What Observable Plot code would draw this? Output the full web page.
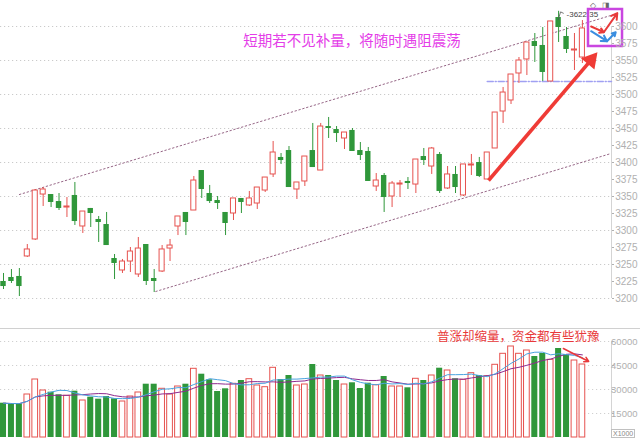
<!DOCTYPE html>
<html><head><meta charset="utf-8">
<script src="https://cdn.jsdelivr.net/npm/d3@7"></script>
<script src="https://cdn.jsdelivr.net/npm/@observablehq/plot@0.6"></script>
<style>
html,body{margin:0;padding:0;background:#fff;}
#wrap{width:640px;height:438px;position:relative;overflow:hidden;background:#fff;}
#vol{border-top:1px solid #d0d0d0;}
#wrap svg{display:block;}
.x1000{position:absolute;left:611px;top:429px;font:7px "Liberation Sans",Arial,sans-serif;color:#888;border:1px solid #c0c0c0;padding:0 1px;line-height:7px;}
</style></head><body>
<div id="wrap"><div id="price"></div><div id="vol"></div><div class="x1000">X1000</div></div>
<script>
// ---- data ----
const openP = [
3225.0, 3230.9, 3232.4, 3261.8, 3286.8, 3352.9, 3352.9, 3342.6, 3333.8, 3351.5,
3305.9, 3332.4, 3316.2, 3308.8, 3258.8, 3241.2, 3254.4, 3235.3, 3279.4, 3229.4,
3239.7, 3273.5, 3305.9, 3326.5, 3329.4, 3388.2, 3354.4, 3344.1, 3326.5, 3325.0,
3347.1, 3336.8, 3339.7, 3358.8, 3382.4, 3407.4, 3417.6, 3360.3, 3372.1, 3417.6,
3388.2, 3452.9, 3448.5, 3435.3, 3447.1, 3417.6, 3416.2, 3364.7, 3380.9, 3350.0,
3367.6, 3372.1, 3367.6, 3408.8, 3394.1, 3411.8, 3361.8, 3382.4, 3351.5, 3395.6,
3400.0, 3375.0, 3420.6, 3475.0, 3491.2, 3530.9, 3551.5, 3577.9, 3572.1, 3519.1,
3613.2, 3585.3, 3564.7, 3554.4];
const closeP = [
3217.6, 3225.0, 3217.6, 3272.1, 3358.8, 3360.3, 3341.2, 3332.4, 3335.3, 3313.2,
3327.9, 3325.0, 3311.8, 3277.9, 3251.5, 3254.4, 3269.1, 3273.5, 3225.0, 3225.0,
3272.1, 3277.9, 3320.6, 3311.8, 3373.5, 3360.3, 3342.6, 3339.7, 3310.3, 3347.1,
3341.2, 3347.1, 3363.2, 3377.9, 3414.7, 3402.9, 3363.2, 3370.6, 3408.8, 3392.6,
3452.9, 3450.0, 3442.6, 3444.1, 3416.2, 3410.3, 3372.1, 3373.5, 3348.5, 3369.1,
3369.1, 3369.1, 3404.4, 3402.9, 3420.6, 3357.4, 3382.4, 3363.2, 3397.1, 3397.1,
3379.4, 3414.7, 3473.5, 3502.9, 3529.4, 3550.0, 3576.5, 3570.6, 3532.4, 3607.4,
3598.5, 3566.2, 3566.2, 3597.1];
const highP = [
3236.8, 3242.6, 3244.1, 3279.4, 3360.3, 3363.2, 3352.9, 3354.4, 3348.5, 3370.6,
3327.9, 3332.4, 3320.6, 3326.5, 3264.7, 3257.4, 3275.0, 3289.7, 3279.4, 3242.6,
3277.9, 3286.8, 3320.6, 3326.5, 3379.4, 3388.2, 3366.2, 3350.0, 3326.5, 3347.1,
3347.1, 3357.4, 3363.2, 3377.9, 3430.9, 3413.2, 3423.5, 3370.6, 3408.8, 3457.4,
3457.4, 3466.2, 3452.9, 3444.1, 3450.0, 3429.4, 3422.1, 3383.8, 3383.8, 3372.1,
3373.5, 3377.9, 3404.4, 3420.6, 3422.1, 3414.7, 3394.1, 3394.1, 3397.1, 3411.8,
3407.4, 3414.7, 3473.5, 3510.3, 3529.4, 3554.4, 3576.5, 3589.7, 3598.5, 3607.4,
3622.35, 3598.5, 3589.7, 3608.8];
const lowP = [
3213.2, 3222.1, 3202.9, 3260.3, 3285.3, 3335.3, 3333.8, 3329.4, 3319.1, 3307.4,
3295.6, 3304.4, 3282.4, 3277.9, 3227.9, 3236.8, 3238.2, 3230.9, 3219.1, 3208.8,
3238.2, 3254.4, 3292.6, 3292.6, 3329.4, 3347.1, 3339.7, 3330.9, 3292.6, 3314.7,
3325.0, 3335.3, 3330.9, 3355.9, 3377.9, 3397.1, 3363.2, 3345.6, 3364.7, 3392.6,
3388.2, 3435.3, 3429.4, 3419.1, 3416.2, 3402.9, 3372.1, 3357.4, 3326.5, 3333.8,
3348.5, 3360.3, 3354.4, 3395.6, 3382.4, 3354.4, 3360.3, 3354.4, 3350.0, 3380.9,
3377.9, 3375.0, 3420.6, 3457.4, 3485.3, 3516.2, 3527.9, 3547.1, 3519.1, 3519.1,
3576.5, 3560.3, 3535.3, 3545.6];
const volume = [
21440, 21060, 21060, 26875, 36250, 29375, 28310, 26690, 26060, 28940,
23125, 25190, 23940, 25625, 24190, 22500, 25625, 28125, 33310, 33310,
30440, 26875, 31875, 33310, 42940, 39560, 36060, 28750, 30440, 33560,
35625, 36440, 32500, 31440, 43560, 36250, 38750, 32500, 33125, 45625,
38750, 38750, 35625, 33125, 34190, 30625, 33940, 32690, 38125, 31875,
31875, 31060, 36690, 35625, 38750, 43310, 41875, 36690, 36060, 40190,
38750, 38310, 45440, 52310, 56875, 52310, 54375, 50625, 52500, 48560,
55625, 51690, 48125, 45625];

const priceTicks = [3200,3225,3250,3275,3300,3325,3350,3375,3400,3425,3450,3475,3500,3525,3550,3575,3600];
const priceGrid = [3200,3250,3300,3350,3400,3450,3500,3550,3600];
const volTicks = [15000,30000,45000,60000];

// annotations (data coordinates: candle index, price / volume)
const upperChannel = [{i:2.0, v:3352.9},{i:77.4, v:3619.1}];
const lowerChannel = [{i:19.2, v:3210.3},{i:76.6, v:3413.2}];
const supportLine = [{i:61.0, v:3519.1},{i:76.67, v:3519.1}];
const bigArrow = [{i1:61.16, v1:3373.5, i2:74.08, v2:3550.6}];
const peakLabel = [{i:71.0, v:3617.2, text:"-3622.35"}];
const peakHook = [{i:69.95, v:3610.0},{i:70.25, v:3621.5},{i:70.6, v:3619.5}];
const noteTop = [{i:43.95, v:3578, text:"短期若不见补量，将随时遇阻震荡"}];
const iconBox = [{i1:73.77, i2:78.06, v1:3570.6, v2:3625.0}];
const redIcon = [{i1:74.1,v1:3600.0,i2:75.7,v2:3591.6},{i1:75.7,v1:3591.6,i2:77.4,v2:3619.6}];
const blueIcon = [{i1:74.1,v1:3593.1,i2:76.1,v2:3578.4},{i1:76.1,v1:3578.4,i2:77.2,v2:3591.6}];
const toolIcons = [{i:74.4, v:3631.5, text:"◇"},{i:76.0, v:3631.5, text:"◨"}];
const noteVol = [{i:64.9, vol:63125, text:"普涨却缩量，资金都有些犹豫"}];
const volArrow = [{i1:70.6, y1:55625, i2:73.8, y2:47500}];

const UP = "#e6524f", DOWN = "#2f973a";
const xDomain = [-0.38, 76.67];
const bars = openP.map((o, i) => ({i, open:o, close:closeP[i], high:highP[i], low:lowP[i], vol:volume[i], up: closeP[i] >= o}));
const ups = bars.filter(d => d.up), downs = bars.filter(d => !d.up);
const font = "'Liberation Sans', Arial, sans-serif";
const cjk = "'Noto Sans CJK SC', sans-serif";

const price = Plot.plot({
  width: 640, height: 328,
  marginLeft: 0, marginRight: 29, marginTop: 26, marginBottom: 30,
  style: {fontFamily: font, background: "#fff", overflow: "visible"},
  x: {domain: xDomain, axis: null},
  y: {domain: [3200, 3600]},
  marks: [
    Plot.ruleY(priceGrid, {stroke: "#cacaca", strokeDasharray: "1.2,2.8"}),
    Plot.ruleX([xDomain[1]], {stroke: "#d4d4d4"}),
    Plot.line(upperChannel, {x: "i", y: "v", stroke: "#8a5578", strokeWidth: 0.9, strokeDasharray: "1.5,2.5"}),
    Plot.line(lowerChannel, {x: "i", y: "v", stroke: "#8a5578", strokeWidth: 0.9, strokeDasharray: "1.5,2.5"}),
    Plot.line(supportLine, {x: "i", y: "v", stroke: "#a0a0f2", strokeDasharray: "6,2,1,2"}),
    Plot.ruleX(ups, {x: "i", y1: "low", y2: "high", stroke: UP}),
    Plot.ruleX(downs, {x: "i", y1: "low", y2: "high", stroke: DOWN}),
    Plot.rect(ups, {x1: d => d.i - 0.32, x2: d => d.i + 0.32, y1: "open", y2: "close", fill: "#fff", stroke: UP}),
    Plot.rect(downs, {x1: d => d.i - 0.34, x2: d => d.i + 0.34, y1: "open", y2: "close", fill: DOWN}),
    Plot.link(bigArrow, {x1: "i1", y1: "v1", x2: "i2", y2: "v2", stroke: "#ef3b36", strokeWidth: 3.6}),
    Plot.dot(bigArrow, {x: "i2", y: "v2", symbol: "triangle", r: 6.5, rotate: 40, fill: "#ef3b36"}),
    Plot.line(peakHook, {x: "i", y: "v", stroke: "#555", strokeWidth: 0.8}),
    Plot.text(peakLabel, {x: "i", y: "v", text: "text", textAnchor: "start", fontSize: 8, fill: "#444"}),
    Plot.text(toolIcons, {x: "i", y: "v", text: "text", fontSize: 8, fill: "#666"}),
    Plot.rect(iconBox, {x1: "i1", x2: "i2", y1: "v1", y2: "v2", fill: "none", stroke: "#c946e0", strokeWidth: 2.5}),
    Plot.arrow(redIcon, {x1: "i1", y1: "v1", x2: "i2", y2: "v2", stroke: "#e83a3a", strokeWidth: 2, headLength: 5}),
    Plot.arrow(blueIcon, {x1: "i1", y1: "v1", x2: "i2", y2: "v2", stroke: "#3a8ee0", strokeWidth: 2, headLength: 5}),
    Plot.text(noteTop, {x: "i", y: "v", text: "text", fill: "#e43de8", fontSize: 14.5, fontFamily: cjk}),
    Plot.axisY({anchor: "right", ticks: priceTicks, tickSize: 2, tickPadding: 24, textAnchor: "end",
      color: "#b0b0b0", fontSize: 10, tickFormat: d => String(d), label: null})
  ]
});
document.getElementById("price").append(price);

const vol = Plot.plot({
  width: 640, height: 109,
  marginLeft: 0, marginRight: 29, marginTop: 12, marginBottom: 1,
  style: {fontFamily: font, background: "#fff", overflow: "visible"},
  x: {domain: xDomain, axis: null},
  y: {domain: [0, 60000]},
  marks: [
    Plot.ruleY(volTicks, {stroke: "#d0d0d0", strokeDasharray: "1.2,2.8"}),
    Plot.ruleX([xDomain[1]], {stroke: "#d4d4d4"}),
    Plot.rect(ups, {x1: d => d.i - 0.36, x2: d => d.i + 0.36, y1: 0, y2: "vol", fill: "#fff", stroke: UP}),
    Plot.rect(downs, {x1: d => d.i - 0.38, x2: d => d.i + 0.38, y1: 0, y2: "vol", fill: DOWN}),
    Plot.lineY(bars, Plot.windowY({k: 10, anchor: "end"}, {x: "i", y: "vol", stroke: "#8e2a8e", strokeWidth: 1})),
    Plot.lineY(bars, Plot.windowY({k: 5, anchor: "end"}, {x: "i", y: "vol", stroke: "#4aa3df", strokeWidth: 1})),
    Plot.text(noteVol, {x: "i", y: "vol", text: "text", fill: "#e8393a", fontSize: 12.5, fontFamily: cjk}),
    Plot.arrow(volArrow, {x1: "i1", y1: "y1", x2: "i2", y2: "y2", stroke: "#e8393a", strokeWidth: 1.5, headLength: 5}),
    Plot.axisY({anchor: "right", ticks: volTicks, tickSize: 2, tickPadding: 24, textAnchor: "end",
      color: "#b0b0b0", fontSize: 9.5, tickFormat: d => String(d), label: null})
  ]
});
document.getElementById("vol").append(vol);
</script></body></html>
